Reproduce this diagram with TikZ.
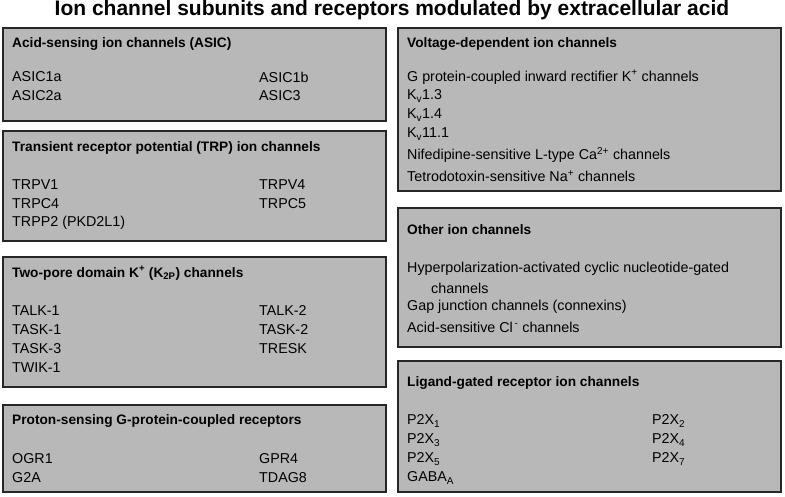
\documentclass[tikz,border=0pt]{standalone}
\usepackage{fontspec}
\setmainfont{Liberation Sans}
\begin{document}
\begin{tikzpicture}[x=1pt,y=-1pt,
 box/.style={draw=black!85,line width=1.6pt,fill=black!28},
 hd/.style={anchor=west,font=\fontsize{13.7}{15}\selectfont\bfseries,inner sep=0},
 it/.style={anchor=west,font=\fontsize{14.3}{15}\selectfont,inner sep=0}]
\useasboundingbox (0,0) rectangle (785,496);
\node[font=\fontsize{21}{22}\selectfont\bfseries] (title) at (392,10) {Ion channel subunits and receptors modulated by extracellular acid};
% left column
\draw[box] (3,28) rectangle (386,121);
\node[hd] (h1) at (12,44) {Acid-sensing ion channels (ASIC)};
\node[it] (a1) at (12,77) {ASIC1a};
\node[it] (a2) at (12,96) {ASIC2a};
\node[it] (a3) at (259,77) {ASIC1b};
\node[it] (a4) at (259,96) {ASIC3};
\draw[box] (3,131) rectangle (386,241);
\node[hd] (h2) at (12,148) {Transient receptor potential (TRP) ion channels};
\node[it] (t1) at (12,185) {TRPV1};
\node[it] (t2) at (12,204) {TRPC4};
\node[it] (t3) at (12,223) {TRPP2 (PKD2L1)};
\node[it] (t4) at (259,185) {TRPV4};
\node[it] (t5) at (259,204) {TRPC5};
\draw[box] (3,257) rectangle (386,387);
\node[hd] (h3) at (12,273) {Two-pore domain K\textsuperscript{+} (K\textsubscript{2P}) channels};
\node[it] (k1) at (12,311) {TALK-1};
\node[it] (k2) at (12,330) {TASK-1};
\node[it] (k3) at (12,349) {TASK-3};
\node[it] (k4) at (12,368) {TWIK-1};
\node[it] (k5) at (259,311) {TALK-2};
\node[it] (k6) at (259,330) {TASK-2};
\node[it] (k7) at (259,349) {TRESK};
\draw[box] (3,405) rectangle (386,492);
\node[hd] (h4) at (12,421) {Proton-sensing G-protein-coupled receptors};
\node[it] (g1) at (12,459) {OGR1};
\node[it] (g2) at (12,478) {G2A};
\node[it] (g3) at (259,459) {GPR4};
\node[it] (g4) at (259,478) {TDAG8};
% right column
\draw[box] (398,28) rectangle (781,191);
\node[hd] (h5) at (407,44) {Voltage-dependent ion channels};
\node[it] (v1) at (407,77) {G protein-coupled inward rectifier K\textsuperscript{+} channels};
\node[it] (v2) at (407,96) {K\textsubscript{v}1.3};
\node[it] (v3) at (407,115) {K\textsubscript{v}1.4};
\node[it] (v4) at (407,134) {K\textsubscript{v}11.1};
\node[it] (v5) at (407,155) {Nifedipine-sensitive L-type Ca\textsuperscript{2+} channels};
\node[it] (v6) at (407,176) {Tetrodotoxin-sensitive Na\textsuperscript{+} channels};
\draw[box] (398,208) rectangle (781,347);
\node[hd] (h6) at (407,230) {Other ion channels};
\node[it] (o1) at (407,269) {Hyperpolarization-activated cyclic nucleotide-gated};
\node[it] (o2) at (431,288) {channels};
\node[it] (o3) at (407,307) {Gap junction channels (connexins)};
\node[it] (o4) at (407,327) {Acid-sensitive Cl\textsuperscript{\,-} channels};
\draw[box] (398,361) rectangle (781,492);
\node[hd] (h7) at (407,383) {Ligand-gated receptor ion channels};
\node[it] (p1) at (407,421) {P2X\textsubscript{1}};
\node[it] (p2) at (407,440) {P2X\textsubscript{3}};
\node[it] (p3) at (407,459) {P2X\textsubscript{5}};
\node[it] (p4) at (407,478) {GABA\textsubscript{A}};
\node[it] (p5) at (652,421) {P2X\textsubscript{2}};
\node[it] (p6) at (652,440) {P2X\textsubscript{4}};
\node[it] (p7) at (652,459) {P2X\textsubscript{7}};
\end{tikzpicture}
\end{document}
